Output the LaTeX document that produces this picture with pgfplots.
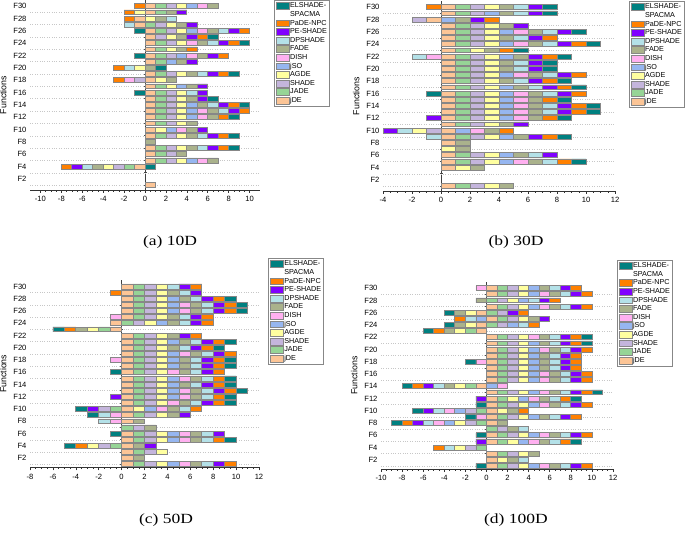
\documentclass[border=0pt]{standalone}
\usepackage{pgfplots}
\pgfplotsset{compat=1.18}
\usepackage{pgfplotstable}
\usepackage{graphicx}
\usepackage{fontspec}
\setmainfont{Liberation Sans}
\newfontfamily\capfont{Liberation Serif}

\definecolor{cJ}{RGB}{252,197,150}
\definecolor{cA}{RGB}{150,212,150}
\definecolor{cS}{RGB}{196,181,220}
\definecolor{cG}{RGB}{255,255,160}
\definecolor{cO}{RGB}{150,182,240}
\definecolor{cD}{RGB}{255,176,240}
\definecolor{cF}{RGB}{170,178,140}
\definecolor{cP}{RGB}{180,225,232}
\definecolor{cE}{RGB}{128,0,255}
\definecolor{cN}{RGB}{255,128,0}
\definecolor{cL}{RGB}{0,128,128}
\definecolor{bord}{RGB}{135,135,135}

% columns: J=jDE A=JADE S=SHADE G=AGDE O=jSO D=DISH F=FADE P=DPSHADE E=PE-SHADE N=PaDE-NPC L=ELSHADE-SPACMA
\pgfplotstableread{
f J A S G O D F P E N L
1 1 0 0 0 0 0 0 0 0 0 0
2 0 0 0 0 0 0 0 0 0 0 0
3 0 0 0 0 0 0 0 0 0 0 0
4 -1 -1 -1 -1 0 0 -1 -1 -1 -1 1
5 1 1 1 1 1 1 1 0 0 0 0
6 1 1 1 0 0 0 1 0 0 0 0
7 1 1 1 1 0 0 1 1 1 1 1
8 0 0 0 0 0 0 1 0 0 0 0
9 1 1 1 1 0 0 1 1 1 1 1
10 1 0 0 1 1 1 1 0 1 0 0
11 1 1 1 1 0 0 1 0 0 0 0
12 1 1 1 1 1 1 1 0 0 1 1
13 1 1 1 1 1 1 1 1 1 1 0
14 1 1 1 1 1 0 1 1 1 1 1
15 1 1 1 1 0 0 1 0 1 0 1
16 1 1 1 1 0 0 0 1 1 0 -1
17 1 1 0 1 1 0 1 0 1 0 0
18 1 0 -1 1 0 -1 1 0 0 -1 0
19 1 1 1 1 0 0 1 1 1 1 1
20 0 0 0 -1 0 0 1 -1 0 -1 1
21 1 1 0 0 1 0 1 0 1 0 0
22 1 1 1 0 1 1 1 0 1 1 -1
23 1 1 0 1 0 0 1 0 0 1 0
24 1 1 1 1 0 1 1 1 1 1 1
25 1 0 1 1 0 0 1 0 1 1 1
26 1 1 1 1 1 1 1 1 1 1 -1
27 -1 1 1 1 0 0 1 -1 1 0 0
28 -1 0 0 1 0 0 1 1 0 -1 0
29 1 1 0 -1 0 0 1 0 1 -1 0
30 1 1 1 1 1 1 1 0 0 -1 0
}\tabA

\pgfplotstableread{
f J A S G O D F P E N L
1 1 1 1 1 0 0 1 0 0 0 0
2 0 0 0 0 0 0 0 0 0 0 0
3 0 0 0 0 0 0 0 0 0 0 0
4 1 0 0 1 0 0 1 0 0 0 0
5 1 1 1 1 1 1 1 1 0 1 1
6 1 1 1 1 1 0 1 1 1 0 0
7 0 0 0 1 0 0 1 0 0 0 0
8 1 0 0 0 0 0 1 0 0 0 0
9 1 1 1 1 1 0 1 -1 1 1 1
10 1 0 -1 -1 1 1 1 -1 -1 1 0
11 1 1 1 1 0 0 1 0 1 0 0
12 1 1 1 1 1 1 1 0 -1 1 1
13 1 1 1 1 1 1 1 1 1 1 1
14 1 1 1 1 1 1 1 1 1 1 1
15 1 1 1 1 1 1 1 0 0 1 1
16 1 1 1 1 1 1 1 1 1 1 -1
17 1 1 1 1 1 0 1 1 1 1 1
18 1 1 1 1 0 0 1 1 1 1 1
19 1 1 1 1 1 1 1 1 1 1 0
20 1 1 1 1 0 0 1 1 1 0 1
21 1 1 1 1 0 0 1 1 1 0 1
22 1 1 1 1 1 -1 1 -1 1 1 1
23 1 1 0 1 0 0 1 0 0 1 1
24 1 1 1 1 1 1 1 1 1 1 1
25 1 1 1 1 0 0 1 1 1 1 0
26 1 1 1 1 1 1 1 1 1 0 1
27 1 1 1 1 0 0 1 0 1 0 0
28 -1 0 -1 0 1 0 1 0 1 1 0
29 1 1 1 0 1 0 1 1 1 0 1
30 1 1 1 1 0 0 1 1 1 -1 1
}\tabB

\pgfplotstableread{
f J A S G O D F P E N L
1 1 1 1 1 1 1 1 1 1 1 0
2 1 0 0 0 0 0 1 0 0 0 0
3 1 1 1 1 0 0 0 0 0 0 0
4 1 -1 -1 -1 0 0 1 0 1 -1 -1
5 1 1 1 1 1 1 1 1 0 1 1
6 1 1 1 1 1 1 1 1 1 0 -1
7 0 1 1 0 0 0 1 0 0 0 0
8 1 0 0 0 0 -1 1 -1 0 0 0
9 1 1 1 1 0 -1 1 -1 1 0 -1
10 1 -1 -1 1 1 1 1 1 -1 1 -1
11 1 1 1 1 0 1 1 1 1 1 1
12 1 1 1 1 1 1 1 1 -1 1 1
13 1 1 1 1 1 1 1 1 1 1 1
14 1 1 1 1 1 0 1 1 1 1 1
15 1 1 1 1 1 1 1 1 0 1 1
16 1 1 1 1 0 1 1 1 1 1 -1
17 1 1 1 1 1 0 1 1 1 1 1
18 1 1 1 1 1 -1 1 1 1 1 1
19 1 1 1 1 1 1 1 1 1 1 0
20 1 1 1 1 0 0 1 1 1 1 1
21 1 1 1 1 1 0 1 1 1 1 1
22 1 1 1 1 0 0 1 0 1 1 0
23 -1 -1 0 -1 0 0 -1 0 0 -1 -1
24 -1 1 1 1 1 0 1 1 1 1 0
25 1 1 1 1 0 -1 1 1 1 1 0
26 1 1 1 1 1 1 1 1 1 1 1
27 1 1 1 1 1 1 1 1 1 1 1
28 1 1 1 1 1 0 1 1 1 1 1
29 1 1 1 1 0 0 1 1 1 -1 0
30 1 1 1 1 0 0 0 1 1 1 0
}\tabC

\pgfplotstableread{
f J A S G O D F P E N L
1 1 1 1 1 1 1 1 1 1 1 -1
2 1 0 0 1 0 0 1 1 0 0 0
3 1 1 1 1 0 0 1 0 0 0 0
4 0 -1 -1 -1 0 0 0 -1 0 -1 0
5 1 1 0 1 1 1 1 1 -1 1 1
6 1 1 1 1 1 1 1 1 1 1 -1
7 0 1 1 0 0 0 1 1 0 0 0
8 1 -1 -1 -1 -1 -1 1 -1 -1 -1 -1
9 1 1 1 1 1 -1 1 1 1 1 -1
10 1 -1 -1 1 -1 -1 1 -1 -1 1 -1
11 1 1 1 1 1 1 1 1 1 1 -1
12 1 1 0 1 1 1 1 1 -1 1 1
13 1 1 1 1 1 1 1 1 1 1 1
14 -1 -1 0 -1 1 1 -1 -1 -1 -1 -1
15 1 1 1 1 1 1 1 1 1 1 0
16 1 1 1 1 1 1 1 1 1 1 0
17 1 1 1 1 1 0 1 1 1 1 0
18 1 1 1 1 1 -1 1 1 1 1 -1
19 1 1 1 1 1 0 1 1 1 1 0
20 1 1 1 1 1 1 1 1 1 1 0
21 1 1 1 1 1 0 1 1 1 1 1
22 1 1 1 1 0 1 1 1 1 1 1
23 -1 -1 0 -1 0 0 -1 0 0 -1 -1
24 -1 1 1 -1 1 0 -1 1 0 1 -1
25 1 1 1 1 -1 0 1 -1 1 -1 0
26 -1 1 1 -1 0 0 -1 0 1 1 -1
27 1 1 1 1 1 1 1 1 1 1 0
28 0 1 1 1 1 0 -1 1 1 1 0
29 1 1 1 1 1 1 1 1 1 1 0
30 1 1 1 1 1 -1 1 1 1 1 0
}\tabD

\pgfplotsset{
  sq/.style={legend image code/.code={\draw[draw=bord, line width=0.5pt, fill=#1] (0pt,-3.4pt) rectangle (13pt,3.4pt);}},
  base/.style={scale only axis, anchor=south west, ymin=0.2, ymax=31},
  mainax/.style={
    base,
    xbar stacked, bar width=0.8,
    axis x line*=bottom, axis y line*=left,
    y axis line style={draw=none},
    x axis line style={-, black!80, line width=0.6pt},
    ytick={2,4,...,30},
    yticklabels={F2,F4,F6,F8,F10,F12,F14,F16,F18,F20,F22,F24,F26,F28,F30},
    ytick style={draw=none},
    extra y ticks={1,3,...,29}, extra y tick labels={},
    extra y tick style={grid=major, major grid style={dotted, black!22, line width=0.4pt}, tick style={draw=none}},
    extra x ticks={0}, extra x tick labels={},
    extra x tick style={grid=major, major grid style={black!75, line width=0.7pt}, tick style={draw=none}},
    xtick align=outside, minor x tick num=3,
    major tick length=3pt, minor tick length=1.8pt,
    xtick style={black!80, line width=0.5pt},
    tick label style={font=\fontsize{7.6}{8}\selectfont},
    ylabel={Functions}, ylabel style={font=\fontsize{8.8}{10}\selectfont},
    legend cell align=left,
    legend style={anchor=north west, draw=bord, line width=0.5pt,
      font=\fontsize{7.2}{8}\selectfont, inner sep=1.5pt, row sep=0pt,
      nodes={inner sep=0.9pt, text height=5.3pt, text depth=1.5pt}},
  },
  negax/.style={base, hide axis, xbar stacked, bar width=0.8},
  markax/.style={base, hide axis},
  pa/.style={at={(30pt,343pt)}, width=230pt, height=190pt, xmin=-11, xmax=11, ymin=0.2,
    xtick={-10,-8,...,10}, xticklabels={-10,-8,-6,-4,-2,0,2,4,6,8,10},
    legend style={at={(1.061,1)}}},
  pb/.style={at={(383pt,342pt)}, width=232pt, height=190pt, xmin=-4, xmax=12, ymin=0.2,
    xtick={-4,-2,...,12}, xticklabels={-4,-2,0,2,4,6,8,10,12},
    legend style={at={(1.06,1)}}},
  pc/.style={at={(30pt,65.7pt)}, width=229pt, height=187pt, xmin=-8, xmax=12, ymin=0.5,
    xtick={-8,-6,...,12}, xticklabels={-8,-6,-4,-2,0,2,4,6,8,10,12},
    legend style={at={(1.04,1.119)}}},
  pd/.style={at={(381pt,64pt)}, width=232pt, height=187pt, xmin=-10, xmax=12, ymin=0.5,
    xtick={-10,-8,...,12}, xticklabels={-10,-8,-6,-4,-2,0,2,4,6,8,10,12},
    legend style={at={(1.017,1.119)}}},
}

\newcommand\panel[2]{%
  \begin{axis}[markax, #1]
    \addplot[only marks, mark=-, mark size=1.5pt, black!70, mark options={line width=0.5pt}]
      coordinates {(0,1) (0,3) (0,5) (0,7) (0,9) (0,11) (0,13) (0,15) (0,17) (0,19) (0,21) (0,23) (0,25) (0,27) (0,29)};
  \end{axis}
  \begin{axis}[mainax, #1]
    \addlegendimage{sq=cL}\addlegendentry{ELSHADE-}
    \addlegendimage{empty legend}\addlegendentry{SPACMA}
    \addlegendimage{sq=cN}\addlegendentry{PaDE-NPC}
    \addlegendimage{sq=cE}\addlegendentry{PE-SHADE}
    \addlegendimage{sq=cP}\addlegendentry{DPSHADE}
    \addlegendimage{sq=cF}\addlegendentry{FADE}
    \addlegendimage{sq=cD}\addlegendentry{DISH}
    \addlegendimage{sq=cO}\addlegendentry{jSO}
    \addlegendimage{sq=cG}\addlegendentry{AGDE}
    \addlegendimage{sq=cS}\addlegendentry{SHADE}
    \addlegendimage{sq=cA}\addlegendentry{JADE}
    \addlegendimage{sq=cJ}\addlegendentry{jDE}
    \pgfplotsinvokeforeach{J,A,S,G,O,D,F,P,E,N,L}{
      \addplot[fill=c##1, draw=bord, line width=0.7pt] table[y=f, x expr={max(\thisrow{##1},0)}] {#2};
    }
  \end{axis}
  \begin{axis}[negax, #1]
    \pgfplotsinvokeforeach{J,A,S,G,O,D,F,P,E,N,L}{
      \addplot[fill=c##1, draw=bord, line width=0.7pt] table[y=f, x expr={min(\thisrow{##1},0)}] {#2};
    }
  \end{axis}
}

\begin{document}
\begin{tikzpicture}
\useasboundingbox (0,0) rectangle (685pt,533pt);
\panel{pa}{\tabA}
\panel{pb}{\tabB}
\panel{pc}{\tabC}
\panel{pd}{\tabD}
\node[font=\capfont\fontsize{14}{16}\selectfont] at (170pt,291pt) {\scalebox{1.25}[1]{(a) 10D}};
\node[font=\capfont\fontsize{14}{16}\selectfont] at (516pt,291pt) {\scalebox{1.25}[1]{(b) 30D}};
\node[font=\capfont\fontsize{14}{16}\selectfont] at (166pt,13pt) {\scalebox{1.25}[1]{(c) 50D}};
\node[font=\capfont\fontsize{14}{16}\selectfont] at (516pt,13pt) {\scalebox{1.25}[1]{(d) 100D}};
\end{tikzpicture}
\end{document}
